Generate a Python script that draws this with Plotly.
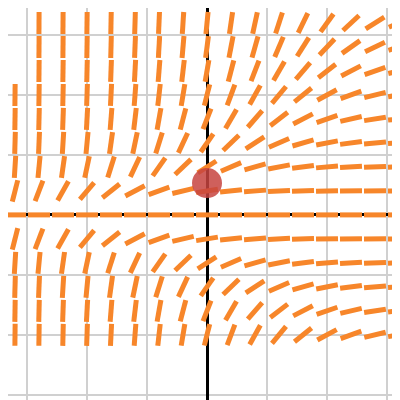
import numpy as np
import plotly.graph_objects as go

# Grid of sample points for the slope field dy/dx = y^2 * e^(-x)
x_points = [round(-3.2 + 0.4 * i, 1) for i in range(17)]
y_points = [round(-2.0 + 0.4 * j, 1) for j in range(14)]
point_x = [0.0]
point_y = [0.53]

def slope(x, y):
    return y * y * np.exp(-x)

half = 11 / 60.0  # half segment length in data units (1 unit = 60 px)
xs, ys = [], []
for x in x_points:
    for y in y_points:
        if x < -3.0 and y > 2.1:
            continue
        s = slope(x, y)
        n = np.hypot(1, s)
        dx, dy = half / n, half * s / n
        xs += [x - dx, x + dx, None]
        ys += [y - dy, y + dy, None]

fig = go.Figure()
fig.add_trace(go.Scatter(x=xs, y=ys, mode="lines",
                         line=dict(color="#f7862a", width=5), hoverinfo="skip"))
fig.add_trace(go.Scatter(x=point_x, y=point_y, mode="markers",
                         marker=dict(color="#c74440", size=30, opacity=0.85)))
fig.update_layout(width=400, height=400, margin=dict(l=0, r=0, t=0, b=0),
                  paper_bgcolor="white", plot_bgcolor="white", showlegend=False)
fig.update_xaxes(range=[-3.317, 3.35], dtick=1, showgrid=True, gridcolor="#d0d0d0",
                 gridwidth=1.5, zeroline=True, zerolinecolor="black", zerolinewidth=3,
                 showticklabels=False, ticks="")
fig.update_yaxes(range=[-3.22, 3.45], dtick=1, showgrid=True, gridcolor="#d0d0d0",
                 gridwidth=1.5, zeroline=True, zerolinecolor="black", zerolinewidth=3,
                 showticklabels=False, ticks="")
fig.write_html("out.html")
